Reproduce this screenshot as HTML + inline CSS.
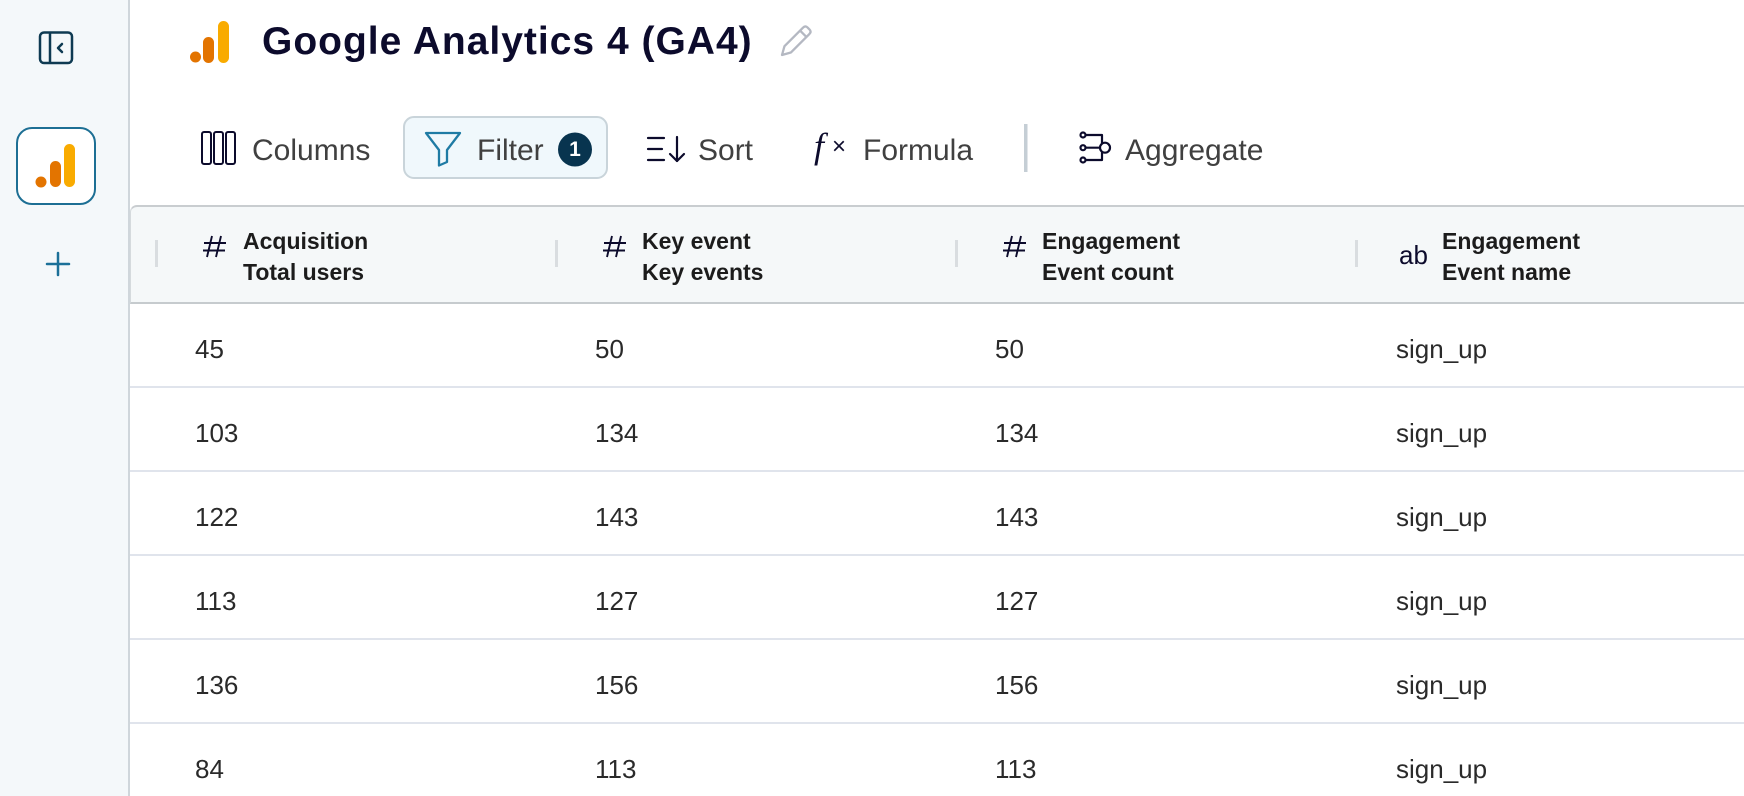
<!DOCTYPE html>
<html>
<head>
<meta charset="utf-8">
<style>
  html,body{margin:0;padding:0;}
  body{width:1744px;height:796px;position:relative;overflow:hidden;background:#ffffff;font-family:"Liberation Sans",Arial,sans-serif;}
  .abs{position:absolute;white-space:nowrap;}
  .side{position:absolute;left:0;top:0;width:128px;height:796px;background:#f4f8fa;border-right:2px solid #cfd6db;}
  .title{left:262px;top:22px;font-size:39px;line-height:39px;font-weight:bold;color:#0c0b2c;letter-spacing:1px;}
  .tb{top:136px;font-size:30px;line-height:30px;color:#404040;}
  .hdr{position:absolute;left:130px;top:205px;width:1640px;height:95px;background:#f5f8f9;border-top:2px solid #c9cdd0;border-bottom:2px solid #c6cbce;border-left:1px solid #d5dadd;border-top-left-radius:7px;}
  .hsep{position:absolute;top:240px;width:3px;height:27px;background:#d9dde0;}
  .ht{font-size:23px;line-height:23px;font-weight:bold;color:#1c1c1c;}
  .rowline{position:absolute;left:130px;width:1614px;height:2px;background:#e0e4ec;}
  .d{font-size:26px;line-height:26px;color:#2a2a2a;}
</style>
</head>
<body>
<div class="side"></div>

<svg class="abs" style="left:0;top:0" width="1744" height="796" viewBox="0 0 1744 796">
  <rect x="40" y="32.5" width="32" height="30.5" rx="4" fill="none" stroke="#0e3a52" stroke-width="2.5"/>
  <line x1="50" y1="33" x2="50" y2="62" stroke="#0e3a52" stroke-width="2.5"/>
  <polyline points="62,44 58,48 62,52" fill="none" stroke="#0e3a52" stroke-width="2.5" stroke-linecap="round" stroke-linejoin="round"/>

  <rect x="17" y="128" width="78" height="76" rx="15" fill="#ffffff" stroke="#1d6f94" stroke-width="2"/>
  <circle cx="41" cy="182" r="5.5" fill="#e37400"/>
  <rect x="50" y="161" width="11" height="26" rx="5.5" fill="#e37400"/>
  <rect x="64" y="144" width="11" height="43" rx="5.5" fill="#f9ab00"/>

  <line x1="47" y1="264" x2="69" y2="264" stroke="#1b7098" stroke-width="2.5" stroke-linecap="round"/>
  <line x1="58" y1="253" x2="58" y2="275" stroke="#1b7098" stroke-width="2.5" stroke-linecap="round"/>

  <circle cx="195.5" cy="57" r="5.5" fill="#e37400"/>
  <rect x="203" y="37" width="11" height="26" rx="5.5" fill="#e37400"/>
  <rect x="218" y="21" width="11" height="42" rx="5.5" fill="#f9ab00"/>

  <g transform="translate(782,55) rotate(-45)" fill="none" stroke="#b4b8c2" stroke-width="2.3" stroke-linejoin="round">
    <path d="M0,0 L8,-4.5 L34,-4.5 Q37.5,-4.5 37.5,-1.5 L37.5,1.5 Q37.5,4.5 34,4.5 L8,4.5 Z"/>
    <line x1="30" y1="-4.5" x2="30" y2="4.5"/>
  </g>

  <g fill="none" stroke="#0c0b2c" stroke-width="2">
    <rect x="202" y="132" width="9" height="32" rx="2"/>
    <rect x="214" y="132" width="9" height="32" rx="2"/>
    <rect x="226" y="132" width="9" height="32" rx="2"/>
  </g>

  <rect x="404" y="117" width="203" height="61" rx="10" fill="#f0f8fc" stroke="#c9d4da" stroke-width="2"/>
  <path d="M426,133 L460,133 L447,150 L447,162 L439,165.5 L439,150 Z" fill="none" stroke="#1f7ba4" stroke-width="2.3" stroke-linejoin="round"/>
  <circle cx="575" cy="149.5" r="17" fill="#08344f"/>

  <g stroke="#0c0b2c" stroke-width="2.2" fill="none" stroke-linecap="round" stroke-linejoin="round">
    <line x1="648" y1="138" x2="664" y2="138"/>
    <line x1="648" y1="149" x2="662" y2="149"/>
    <line x1="648" y1="160" x2="664" y2="160"/>
    <line x1="677" y1="137" x2="677" y2="161"/>
    <polyline points="670,154 677,161 684,154"/>
  </g>

  <rect x="1024" y="124" width="3.5" height="48" fill="#c5ced5"/>

  <g stroke="#0c0b2c" stroke-width="2.2" fill="none" stroke-linecap="round" stroke-linejoin="round">
    <circle cx="1083" cy="135" r="2.5"/>
    <circle cx="1083" cy="147.7" r="2.5"/>
    <circle cx="1083" cy="160" r="2.5"/>
    <circle cx="1105" cy="147.7" r="5"/>
    <polyline points="1086,135 1102,135 1102,143"/>
    <line x1="1086" y1="147.7" x2="1100" y2="147.7"/>
    <polyline points="1086,160 1102,160 1102,152.5"/>
  </g>
</svg>

<div class="abs title">Google Analytics 4 (GA4)</div>

<div class="abs tb" style="left:252px">Columns</div>
<div class="abs tb" style="left:477px">Filter</div>
<div class="abs" style="left:558px;top:137px;width:34px;text-align:center;font-size:21px;line-height:25px;font-weight:bold;color:#fff;">1</div>
<div class="abs tb" style="left:698px">Sort</div>
<div class="abs" style="left:814px;top:128px;font-family:'Liberation Serif',serif;font-style:italic;font-size:36px;line-height:36px;color:#0c0b2c;">f</div>
<div class="abs" style="left:832px;top:134px;font-size:24px;line-height:26px;color:#0c0b2c;">×</div>
<div class="abs tb" style="left:863px">Formula</div>
<div class="abs tb" style="left:1125px">Aggregate</div>

<div class="hdr"></div>
<div class="hsep" style="left:155px"></div>
<div class="hsep" style="left:555px"></div>
<div class="hsep" style="left:955px"></div>
<div class="hsep" style="left:1355px"></div>

<svg class="abs" style="left:0;top:0" width="1744" height="796" viewBox="0 0 1744 796">
  <g stroke="#0c0b2c" stroke-width="1.9" fill="none">
    <g>
      <line x1="212" y1="236" x2="207" y2="257"/>
      <line x1="221" y1="236" x2="216" y2="257"/>
      <line x1="204" y1="243" x2="226" y2="243"/>
      <line x1="203" y1="250.5" x2="225" y2="250.5"/>
    </g>
    <g transform="translate(400,0)">
      <line x1="212" y1="236" x2="207" y2="257"/>
      <line x1="221" y1="236" x2="216" y2="257"/>
      <line x1="204" y1="243" x2="226" y2="243"/>
      <line x1="203" y1="250.5" x2="225" y2="250.5"/>
    </g>
    <g transform="translate(800,0)">
      <line x1="212" y1="236" x2="207" y2="257"/>
      <line x1="221" y1="236" x2="216" y2="257"/>
      <line x1="204" y1="243" x2="226" y2="243"/>
      <line x1="203" y1="250.5" x2="225" y2="250.5"/>
    </g>
  </g>
</svg>
<div class="abs" style="left:1399px;top:242px;font-size:26px;line-height:26px;color:#0c0b2c;">ab</div>

<div class="abs ht" style="left:243px;top:230px">Acquisition</div>
<div class="abs ht" style="left:243px;top:261px">Total users</div>
<div class="abs ht" style="left:642px;top:230px">Key event</div>
<div class="abs ht" style="left:642px;top:261px">Key events</div>
<div class="abs ht" style="left:1042px;top:230px">Engagement</div>
<div class="abs ht" style="left:1042px;top:261px">Event count</div>
<div class="abs ht" style="left:1442px;top:230px">Engagement</div>
<div class="abs ht" style="left:1442px;top:261px">Event name</div>

<div class="rowline" style="top:386px"></div>
<div class="rowline" style="top:470px"></div>
<div class="rowline" style="top:554px"></div>
<div class="rowline" style="top:638px"></div>
<div class="rowline" style="top:722px"></div>

<div class="abs d" style="left:195px;top:336px">45</div>
<div class="abs d" style="left:595px;top:336px">50</div>
<div class="abs d" style="left:995px;top:336px">50</div>
<div class="abs d" style="left:1396px;top:336px">sign_up</div>

<div class="abs d" style="left:195px;top:420px">103</div>
<div class="abs d" style="left:595px;top:420px">134</div>
<div class="abs d" style="left:995px;top:420px">134</div>
<div class="abs d" style="left:1396px;top:420px">sign_up</div>

<div class="abs d" style="left:195px;top:504px">122</div>
<div class="abs d" style="left:595px;top:504px">143</div>
<div class="abs d" style="left:995px;top:504px">143</div>
<div class="abs d" style="left:1396px;top:504px">sign_up</div>

<div class="abs d" style="left:195px;top:588px">113</div>
<div class="abs d" style="left:595px;top:588px">127</div>
<div class="abs d" style="left:995px;top:588px">127</div>
<div class="abs d" style="left:1396px;top:588px">sign_up</div>

<div class="abs d" style="left:195px;top:672px">136</div>
<div class="abs d" style="left:595px;top:672px">156</div>
<div class="abs d" style="left:995px;top:672px">156</div>
<div class="abs d" style="left:1396px;top:672px">sign_up</div>

<div class="abs d" style="left:195px;top:756px">84</div>
<div class="abs d" style="left:595px;top:756px">113</div>
<div class="abs d" style="left:995px;top:756px">113</div>
<div class="abs d" style="left:1396px;top:756px">sign_up</div>
</body>
</html>
